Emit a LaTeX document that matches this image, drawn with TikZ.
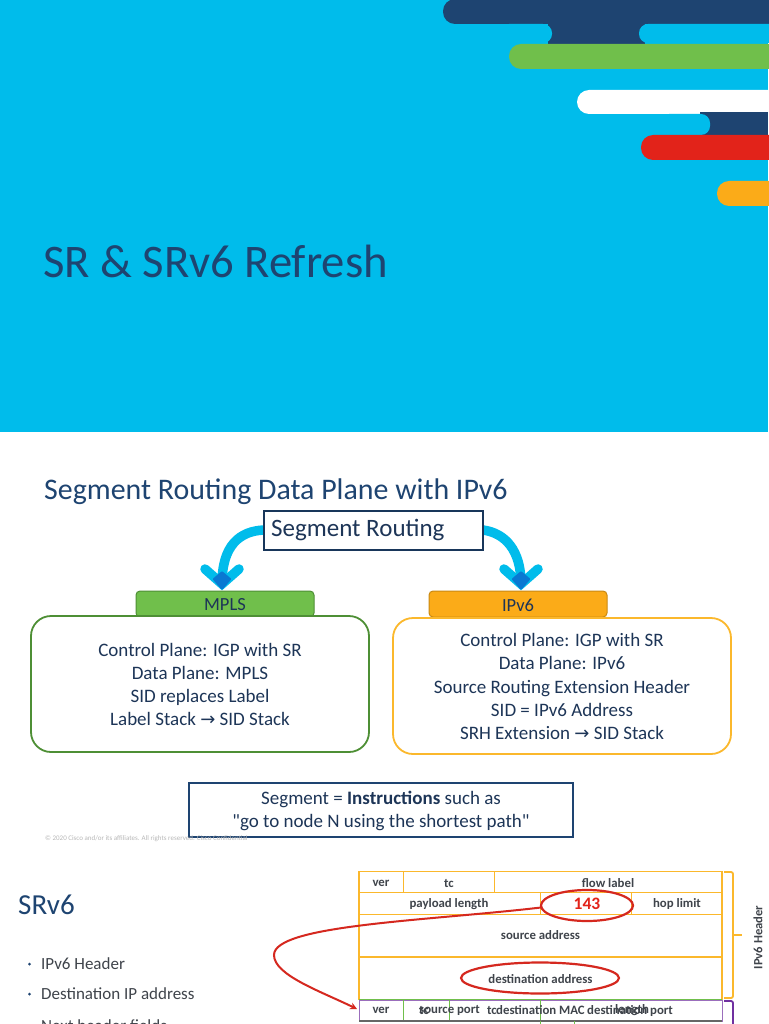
\documentclass[tikz,border=0pt]{standalone}
\usepackage{fontspec}
\setmainfont{Carlito}
\newfontfamily\arwfont{DejaVu Sans}
\newfontfamily\plainfont{Carlito}
\usetikzlibrary{arrows.meta}
\definecolor{ciscoblue}{HTML}{00BCEB}
\definecolor{navy}{HTML}{1E4471}
\definecolor{lgreen}{HTML}{70BF4B}
\definecolor{cred}{HTML}{E2231A}
\definecolor{corange}{HTML}{FBAB18}
\definecolor{dgreen}{HTML}{4E8F35}
\definecolor{txt}{HTML}{1D3557}
\definecolor{gtxt}{HTML}{3F444B}
\definecolor{purp}{HTML}{7030A0}
\definecolor{ybox}{HTML}{FBB82C}
\definecolor{dred}{HTML}{D5281F}
\definecolor{tipblue}{HTML}{0A78D2}
\newcommand{\arw}{{\arwfont\fontsize{18}{23.3}\selectfont→}}
\newcommand{\sq}{{\plainfont"}}
\tikzset{
 x=1pt,y=-1pt,
 lbl/.style={font=\fontsize{19}{23.3}\selectfont,text=txt,align=center,inner sep=0pt},
 tag/.style={line width=1pt,rounded corners=4pt,minimum width=178pt,minimum height=26pt,inner sep=0pt},
 taglbl/.style={inner sep=0pt,text=txt,font=\fontsize{18.5}{20}\selectfont},
 panel/.style={fill=white,line width=1.8pt,rounded corners=20pt,minimum width=338pt,minimum height=136pt,inner sep=0pt},
 cell/.style={font=\fontsize{12.8}{14}\selectfont\bfseries,text=gtxt,inner sep=0pt,yshift=-1pt},
 ybar/.style={draw=ybox,line width=1.1pt},
 sarrow/.style={draw=ciscoblue,line width=9.5pt,line cap=round},
}
\begin{document}
\begin{tikzpicture}
\useasboundingbox (0,0) rectangle (768,1024);
\fill[white] (0,0) rectangle (768,1024);
\fill[ciscoblue] (0,0) rectangle (768,432);
% ribbons
\fill[navy,rounded corners=12pt] (443,-1) rectangle (800,24);
\fill[navy] (548,20) rectangle (645,46);
\fill[ciscoblue,rounded corners=9pt] (500,24) rectangle (552,43);
\fill[ciscoblue,rounded corners=9pt] (639,24) rectangle (800,43);
\fill[lgreen,rounded corners=12pt] (509,44) rectangle (800,69);
\fill[white,rounded corners=12pt] (577,90) rectangle (800,114);
\fill[navy] (700,112) rectangle (768,137);
\fill[ciscoblue,rounded corners=9pt] (660,114) rectangle (710,135);
\fill[cred,rounded corners=12pt] (641,135) rectangle (800,160);
\fill[corange,rounded corners=12pt] (717,181) rectangle (800,206);
\node[anchor=west,inner sep=0pt,text=navy,font=\fontsize{46.7}{50}\selectfont] (t1) at (43,261) {SR \& SRv6 Refresh};
\node[anchor=west,inner sep=0pt,text=navy,font=\fontsize{29.9}{34}\selectfont] (t2) at (44,491.5) {Segment Routing Data Plane with IPv6};
% curved arrows
\coordinate (al) at (222,584);
\coordinate (ar) at (521,584);
\coordinate (al2) at (264,530);
\coordinate (ar2) at (483,530);
\draw[sarrow,line cap=butt] (al2) .. controls (240,531) and (222,545) .. (al);
\draw[sarrow,line cap=butt] (ar2) .. controls (505,533) and (521,550) .. (ar);
\draw[sarrow] (205,569) -- (al) -- (239,569);
\draw[sarrow] (504,569) -- (ar) -- (538,569);
\fill[tipblue,rounded corners=1pt] (222,590) -- (212.5,579) -- (222,571) -- (231.5,579) -- cycle;
\fill[tipblue,rounded corners=1pt] (521,590) -- (511.5,579) -- (521,571) -- (530.5,579) -- cycle;
\node[draw=navy!80!black,line width=2.5pt,fill=white,minimum width=219pt,minimum height=39pt,inner sep=0pt] (sr) at (373.5,530.5) {};
\node[anchor=west,inner sep=0pt,text=txt,font=\fontsize{25}{30}\selectfont] (srt) at (271,530.5) {Segment Routing};
% MPLS
\node[tag,draw=dgreen,fill=lgreen] (mpls) at (225,604) {};
\node[taglbl] (mplst) at (225,605) {MPLS};
\node[panel,draw=dgreen] (mb) at (200,684) {};
\node[lbl] (mt) at (200,684.5) {Control Plane: IGP with SR\\Data Plane: MPLS\\SID replaces Label\\Label Stack \arw{} SID Stack};
% IPv6
\node[tag,draw=corange!80!black,fill=corange] (ipv6) at (518,604) {};
\node[taglbl] (ipv6t) at (518,605) {IPv6};
\node[panel,draw=ybox] (ib) at (562,686) {};
\node[lbl] (it) at (562,686.5) {Control Plane: IGP with SR\\Data Plane: IPv6\\Source Routing Extension Header\\SID = IPv6 Address\\SRH Extension \arw{} SID Stack};
% segment box
\node[draw=navy,line width=1.5pt,fill=white,minimum width=384pt,minimum height=54pt,inner sep=0pt] (seg) at (381,810) {};
\node[lbl] (segt) at (381,811) {Segment = \textbf{Instructions} such as\\\sq{}go to node N using the shortest path\sq};
\node[anchor=west,inner sep=0pt,text=black!28,font=\fontsize{7}{8}\selectfont] (copy) at (45,838.5) {© 2020  Cisco and/or its affiliates. All rights reserved.   Cisco Confidential};
% SRv6
\node[anchor=west,inner sep=0pt,text=navy,font=\fontsize{29}{34}\selectfont] (t3) at (18,905) {SRv6};
\foreach \yy/\tt/\nn in {964/IPv6 Header/a,994/Destination IP address/b,1026/Next header fields/c}{
 \fill[navy] (29.5,\yy) circle (1.5);
 \node[anchor=west,inner sep=0pt,text=gtxt,font=\fontsize{17}{20}\selectfont] (bl\nn) at (41,\yy) {\tt};
}
% header table
\draw[ybar] (359,871.5) rectangle (722,999.5);
\draw[ybar] (359,892.5) -- (722,892.5);
\draw[ybar] (359,914.5) -- (722,914.5);
\draw[ybar,line width=1.6pt] (359,957) -- (722,957);
\draw[ybar] (403.5,871.5) -- (403.5,892.5);
\draw[ybar] (494.5,871.5) -- (494.5,892.5);
\draw[ybar] (540.5,892.5) -- (540.5,914.5);
\draw[ybar] (631.5,892.5) -- (631.5,914.5);
\node[cell] (c1) at (381,882) {ver};
\node[cell] (c2) at (449,882) {tc};
\node[cell] (c3) at (608,882) {flow label};
\node[cell] (c4) at (449,903) {payload length};
\node[cell] (c5) at (677,903) {hop limit};
\node[cell] (c6) at (540.5,934.5) {source address};
\node[cell] (c7) at (540.5,978) {destination address};
\node[inner sep=0pt,text=cred,font=\fontsize{17.5}{18}\bfseries\selectfont] (n143) at (587,904) {143};
\draw[dred,line width=2.2pt] (587,905.5) ellipse (46 and 15.5);
\draw[dred,line width=2.2pt] (540,978) ellipse (79 and 15.5);
% udp row
\draw[purp!70,line width=1pt] (359,1000) rectangle (722,1021);
\draw[lgreen,line width=1pt] (359,999.5) -- (722,999.5);
\draw[lgreen,line width=.8pt] (403.5,1000) -- (403.5,1021) (449,1000) -- (449,1021) (540.5,1000) -- (540.5,1021);
\draw[black!60,line width=1.4pt] (359,1021) -- (722,1021);
\draw[lgreen,line width=.8pt] (540.5,1021) -- (540.5,1024) (574.5,1021) -- (574.5,1024);
\node[cell] (d1) at (381,1009.5) {ver};
\node[cell,anchor=west] (d2) at (419,1009.5) {tc};
\node[cell,anchor=west] (d3) at (419,1009.5) {source port};
\node[cell,anchor=west] (d4) at (487,1009.5) {tc};
\node[cell,anchor=west] (d5) at (496,1009.5) {destination MAC};
\node[cell,anchor=west] (d6) at (587,1009.5) {destination port};
\node[cell,anchor=west] (d7) at (615,1009.5) {length};
% braces
\draw[ybar,line width=1.8pt,rounded corners=2pt] (724,872) -- (733,872) -- (733,998) -- (724,998);
\draw[ybar,line width=1.8pt] (733,935) -- (742,935);
\draw[purp,line width=1.8pt,rounded corners=2pt] (724,1001) -- (733,1001) -- (733,1030);
\node[rotate=90,inner sep=0pt,text=gtxt,font=\fontsize{12.6}{14}\bfseries\selectfont] (ih) at (758,937.5) {IPv6 Header};
% red arrow
\coordinate (rs) at (541,907.5);
\coordinate (re) at (357,1009);
\draw[dred,line width=2pt,-{Stealth[length=7pt,width=7pt]}] (rs) .. controls (425,921) and (274,925) .. (274,955) .. controls (274,975) and (320,991) .. (re);
\end{tikzpicture}
\end{document}
